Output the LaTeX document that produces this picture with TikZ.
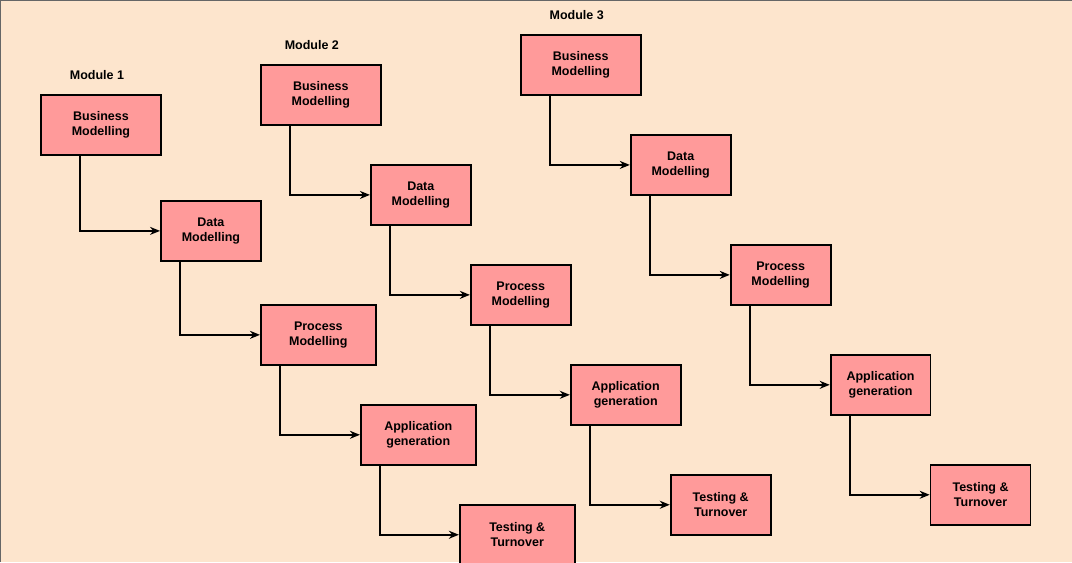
\documentclass[tikz,border=0pt]{standalone}
\usepackage{fontspec}
\setmainfont{Liberation Sans}
\usetikzlibrary{arrows.meta}
\definecolor{bg}{HTML}{FDE5CD}
\definecolor{bx}{HTML}{FF9A9A}
\begin{document}
\begin{tikzpicture}[x=1pt,y=-1pt,
  box/.style={draw=black,line width=1.8pt,fill=bx,align=center,inner sep=0pt,
    font=\fontsize{12.5}{15}\selectfont\bfseries},
  lab/.style={font=\fontsize{12.5}{15}\selectfont\bfseries},
  conn/.style={draw=black,line width=1.6pt,-{Stealth[length=10pt,width=8pt]}}]
\fill[bg] (0,0) rectangle (1072,562);
\draw[line width=1pt,black!60] (0.5,562) -- (0.5,0.5) -- (1072,0.5);
\useasboundingbox (0,0) rectangle (1072,562);
\newcommand{\bx}[6]{\node[box,minimum width=#4-#2,minimum height=#5-#3] (#1) at ({(#2+#4)/2},{(#3+#5)/2}) {#6};}
% Module 1
\bx{a1}{41}{95}{161}{155}{Business\\Modelling}
\bx{a2}{161}{201}{261}{261}{Data\\Modelling}
\bx{a3}{261}{305}{376}{365}{Process\\Modelling}
\bx{a4}{361}{405}{476}{465}{Application\\generation}
\bx{a5}{460}{505}{575}{565}{Testing \&\\Turnover}
% Module 2
\bx{b1}{261}{65}{381}{125}{Business\\Modelling}
\bx{b2}{371}{165}{471}{225}{Data\\Modelling}
\bx{b3}{471}{265}{571}{325}{Process\\Modelling}
\bx{b4}{571}{365}{681}{425}{Application\\generation}
\bx{b5}{671}{475}{771}{535}{Testing \&\\Turnover}
% Module 3
\bx{c1}{521}{35}{641}{95}{Business\\Modelling}
\bx{c2}{631}{135}{731}{195}{Data\\Modelling}
\bx{c3}{731}{245}{831}{305}{Process\\Modelling}
\bx{c4}{831}{355}{931}{415}{Application\\generation}
\bx{c5}{931}{465}{1031}{525}{Testing \&\\Turnover}
\node[lab] (m1) at (97,75) {Module 1};
\node[lab] (m2) at (312,45) {Module 2};
\node[lab] (m3) at (577,15) {Module 3};
\newcommand{\cn}[3]{\draw[conn] ([xshift=#3pt]#1.south west) |- (#2.west);}
\cn{a1}{a2}{40}\cn{a2}{a3}{20}\cn{a3}{a4}{20}\cn{a4}{a5}{20}
\cn{b1}{b2}{30}\cn{b2}{b3}{20}\cn{b3}{b4}{20}\cn{b4}{b5}{20}
\cn{c1}{c2}{30}\cn{c2}{c3}{20}\cn{c3}{c4}{20}\cn{c4}{c5}{20}
\end{tikzpicture}
\end{document}
